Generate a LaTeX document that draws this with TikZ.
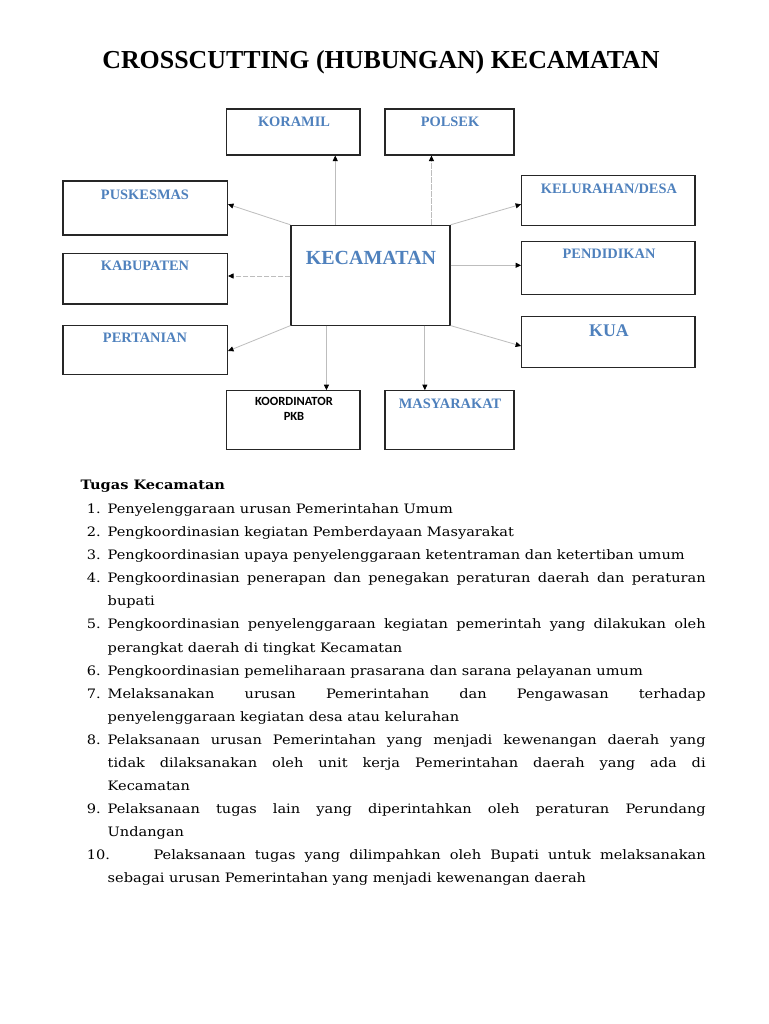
\documentclass[tikz,border=0pt]{standalone}
\usepackage{fontspec}
\setmainfont{DejaVu Serif}[FakeStretch=1.12]
\newfontfamily\lblfont{Liberation Serif}
\newfontfamily\pkbfont{Carlito}
\usetikzlibrary{arrows.meta}
\definecolor{lblblue}{HTML}{4F81BD}
\definecolor{linegray}{HTML}{BDBDBD}
\newcommand{\jline}[2]{\makebox[#1][s]{#2}}
\begin{document}
\begin{tikzpicture}[x=1pt,y=-1pt,
  box/.style={draw=black!85, line width=1.1pt, rectangle, inner sep=0pt, fill=white},
  lbl/.style={font=\lblfont\bfseries\fontsize{14.4pt}{16pt}\selectfont, text=lblblue, inner sep=0pt, text height=9.5pt, text depth=0pt},
  conn/.style={draw=linegray, line width=0.8pt, -{Triangle[length=5.5pt,width=5pt,color=black]}},
  body/.style={font=\fontsize{13pt}{15pt}\selectfont, inner sep=0pt, anchor=base west},
  ]
\useasboundingbox[fill=white] (0,0) rectangle (768,1024);

% title
\node[inner sep=0pt, text height=17.1pt, text depth=0pt, font=\lblfont\bfseries\fontsize{25.9pt}{28pt}\selectfont] (title) at (381,60) {CROSSCUTTING (HUBUNGAN) KECAMATAN};

% boxes
\node[box, minimum width=133.3pt, minimum height=46pt] (kor) at (293.3,132) {};
\node[box, minimum width=129pt, minimum height=46pt] (pol) at (449.5,132) {};
\node[box, minimum width=164.5pt, minimum height=54pt] (pus) at (145.2,208) {};
\node[box, minimum width=164.5pt, minimum height=50.3pt] (kab) at (145.2,278.8) {};
\node[box, minimum width=164.5pt, minimum height=49pt] (per) at (145.2,349.8) {};
\node[box, minimum width=173.3pt, minimum height=49.6pt] (kel) at (608.3,200.5) {};
\node[box, minimum width=173.3pt, minimum height=53.3pt] (pen) at (608.3,267.7) {};
\node[box, minimum width=173.3pt, minimum height=51.4pt] (kua) at (608.3,342) {};
\node[box, minimum width=159pt, minimum height=99.7pt] (kec) at (370.5,275.2) {};
\node[box, minimum width=133.3pt, minimum height=58.6pt] (pkb) at (293.3,420) {};
\node[box, minimum width=129pt, minimum height=58.6pt] (mas) at (449.5,420) {};

% labels
\node[lbl] (lkor) at (294,121.7) {KORAMIL};
\node[lbl] (lpol) at (450,121.7) {POLSEK};
\node[lbl] (lpus) at (145,194.3) {PUSKESMAS};
\node[lbl] (lkab) at (145,266) {KABUPATEN};
\node[lbl] (lper) at (145,337.7) {PERTANIAN};
\node[lbl] (lkel) at (609,188.3) {KELURAHAN/DESA};
\node[lbl] (lpen) at (609,253.7) {PENDIDIKAN};
\node[lbl, font=\lblfont\bfseries\fontsize{17.8pt}{19pt}\selectfont, text height=11.8pt] (lkua) at (609,331) {KUA};
\node[lbl, font=\lblfont\bfseries\fontsize{20pt}{22pt}\selectfont, text height=13.3pt] (lkec) at (371,257.7) {KECAMATAN};
\node[lbl] (lmas) at (450,403.3) {MASYARAKAT};
\node[inner sep=0pt, align=center, font=\pkbfont\bfseries\fontsize{12.5pt}{14.7pt}\selectfont] (lpkb) at (294,408.7) {KOORDINATOR\\PKB};

% connectors
\coordinate (akor) at ([xshift=44.8pt]kec.north west);
\draw[conn] (akor) -- (akor |- kor.south);
\coordinate (apol) at ([xshift=141pt]kec.north west);
\draw[conn, dash pattern=on 6pt off 1pt] (apol) -- (apol |- pol.south);
\draw[conn] (kec.north west) -- ([yshift=3.7pt]pus.east);
\coordinate (akab) at ([yshift=2.8pt]kab.east);
\draw[conn, dash pattern=on 5pt off 2pt] (kec.west |- akab) -- (akab);
\draw[conn] (kec.south west) -- ([yshift=-1.2pt]per.east);
\draw[conn] (kec.north east) -- ([yshift=-3.8pt]kel.west);
\coordinate (apen) at ([yshift=2.4pt]pen.west);
\draw[conn] (kec.east |- apen) -- (apen);
\draw[conn] (kec.south east) -- ([yshift=-4pt]kua.west);
\coordinate (apkb) at ([xshift=36pt]kec.south west);
\draw[conn] (apkb) -- (apkb |- pkb.north);
\coordinate (amas) at ([xshift=134.4pt]kec.south west);
\draw[conn] (amas) -- (amas |- mas.north);

% text
\node[body, font=\bfseries\fontsize{13pt}{15pt}\selectfont] (head) at (80.4,489) {Tugas Kecamatan};
\node[body] (n1) at (86.7,513.5) {1.};
\node[body] (t1) at (107.5,513.5) {Penyelenggaraan urusan Pemerintahan Umum};
\node[body] (n2) at (86.7,536.6) {2.};
\node[body] (t2) at (107.5,536.6) {Pengkoordinasian kegiatan Pemberdayaan Masyarakat};
\node[body] (n3) at (86.7,559.7) {3.};
\node[body] (t3) at (107.5,559.7) {Pengkoordinasian upaya penyelenggaraan ketentraman dan ketertiban umum};
\node[body] (n4) at (86.7,582.7) {4.};
\node[body] (t4) at (107.5,582.7) {\jline{598pt}{Pengkoordinasian penerapan dan penegakan peraturan daerah dan peraturan}};
\node[body] (t4b) at (107.5,605.8) {bupati};
\node[body] (n5) at (86.7,628.9) {5.};
\node[body] (t5) at (107.5,628.9) {\jline{598pt}{Pengkoordinasian penyelenggaraan kegiatan pemerintah yang dilakukan oleh}};
\node[body] (t5b) at (107.5,652) {perangkat daerah di tingkat Kecamatan};
\node[body] (n6) at (86.7,675.1) {6.};
\node[body] (t6) at (107.5,675.1) {Pengkoordinasian pemeliharaan prasarana dan sarana pelayanan umum};
\node[body] (n7) at (86.7,698.1) {7.};
\node[body] (t7) at (107.5,698.1) {\jline{598pt}{Melaksanakan urusan Pemerintahan dan Pengawasan terhadap}};
\node[body] (t7b) at (107.5,721.2) {penyelenggaraan kegiatan desa atau kelurahan};
\node[body] (n8) at (86.7,744.3) {8.};
\node[body] (t8) at (107.5,744.3) {\jline{598pt}{Pelaksanaan urusan Pemerintahan yang menjadi kewenangan daerah yang}};
\node[body] (t8b) at (107.5,767.4) {\jline{598pt}{tidak dilaksanakan oleh unit kerja Pemerintahan daerah yang ada di}};
\node[body] (t8c) at (107.5,790.5) {Kecamatan};
\node[body] (n9) at (86.7,813.5) {9.};
\node[body] (t9) at (107.5,813.5) {\jline{598pt}{Pelaksanaan tugas lain yang diperintahkan oleh peraturan Perundang}};
\node[body] (t9b) at (107.5,836.6) {Undangan};
\node[body] (n10) at (86.7,859.7) {10.};
\node[body] (t10) at (153.3,859.7) {\jline{552.2pt}{Pelaksanaan tugas yang dilimpahkan oleh Bupati untuk melaksanakan}};
\node[body] (t10b) at (107.5,882.8) {sebagai urusan Pemerintahan yang menjadi kewenangan daerah};
\end{tikzpicture}
\end{document}
